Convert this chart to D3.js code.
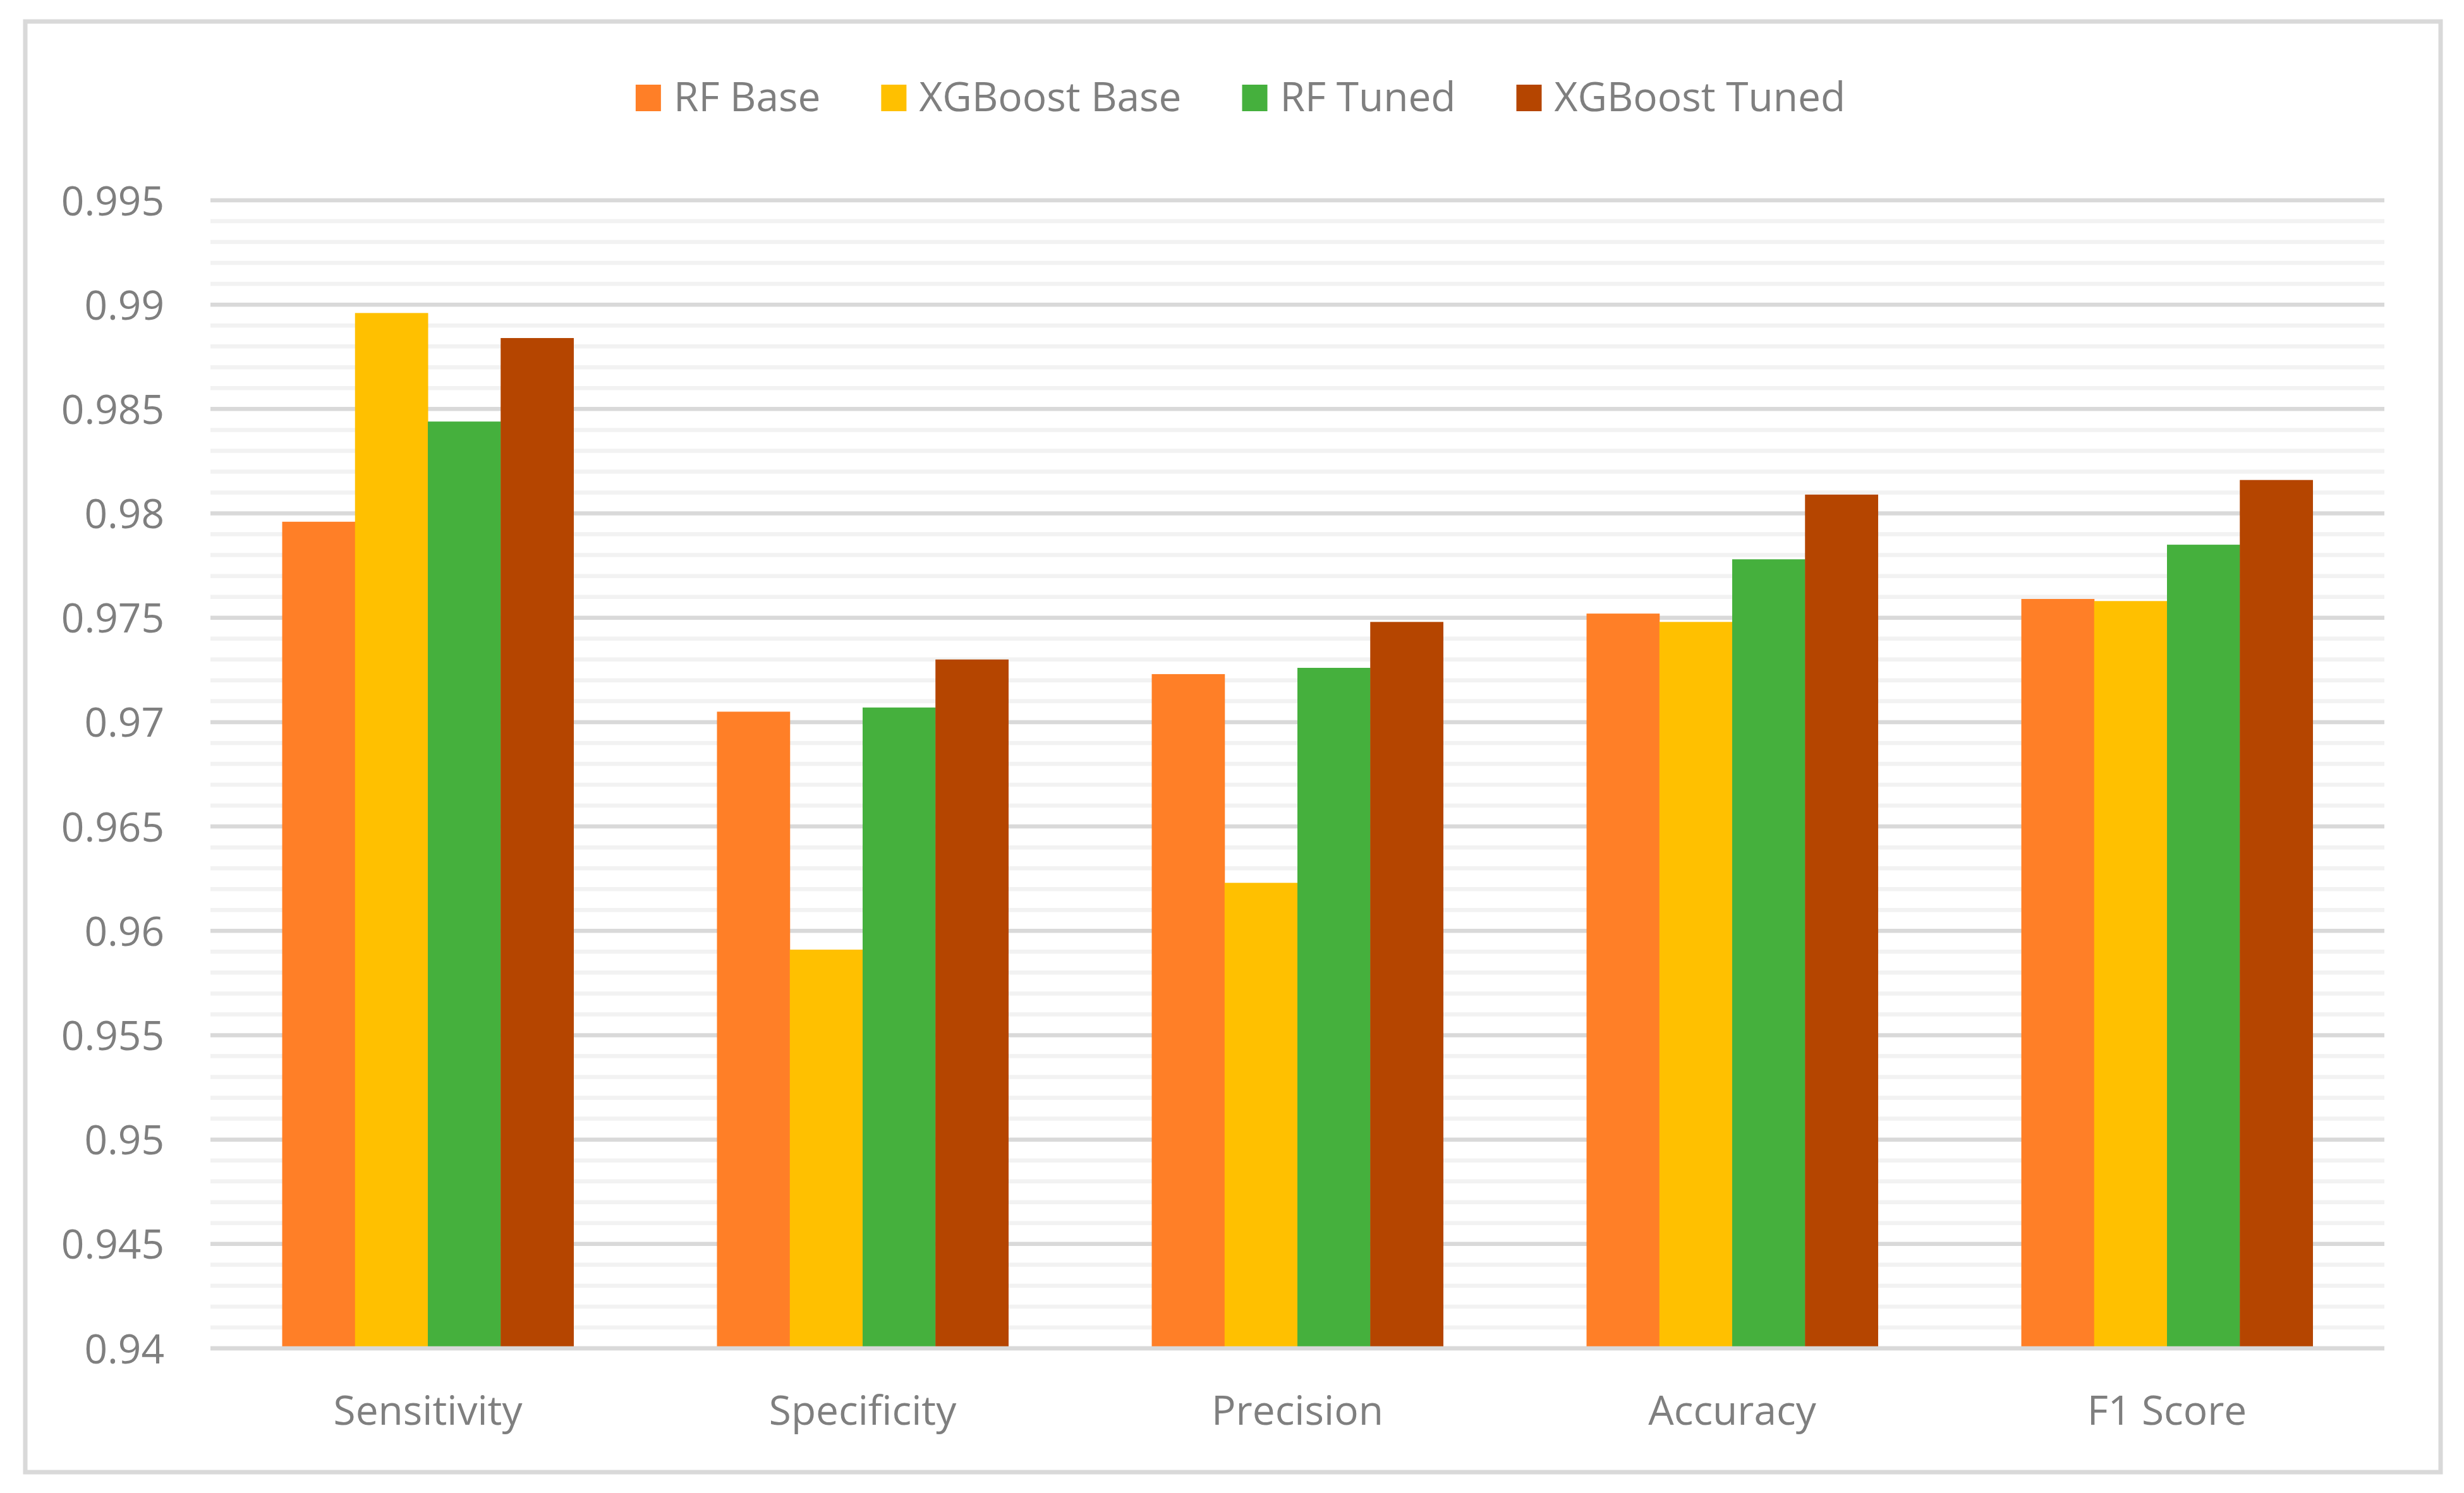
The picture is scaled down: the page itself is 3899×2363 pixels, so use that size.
<!DOCTYPE html>
<html>
<head>
<meta charset="utf-8">
<script src="https://cdn.jsdelivr.net/npm/d3@7"></script>
<style>
  html, body { margin: 0; padding: 0; background: #ffffff; }
  svg { display: block; }
  text { font-family: "Open Sans", "Liberation Sans", sans-serif; fill: #7f7f7f; }
</style>
</head>
<body>
<svg id="chart" width="3899" height="2363"></svg>
<script>
// ---- data ----
const categories = ["Sensitivity", "Specificity", "Precision", "Accuracy", "F1 Score"];
const seriesNames = ["RF Base", "XGBoost Base", "RF Tuned", "XGBoost Tuned"];
const seriesColors = ["#ff7f27", "#ffc000", "#45b03d", "#b54500"];
const rfBase      = [0.9796, 0.9705, 0.9723, 0.9752, 0.9759];
const xgbBase     = [0.9896, 0.9591, 0.9623, 0.9748, 0.9758];
const rfTuned     = [0.9844, 0.9707, 0.9726, 0.9778, 0.9785];
const xgbTuned    = [0.9884, 0.9730, 0.9748, 0.9809, 0.9816];
const yTickValues = [0.94, 0.945, 0.95, 0.955, 0.96, 0.965, 0.97, 0.975, 0.98, 0.985, 0.99, 0.995];
const yTickLabels = ["0.94", "0.945", "0.95", "0.955", "0.96", "0.965", "0.97", "0.975", "0.98", "0.985", "0.99", "0.995"];
const seriesValues = [rfBase, xgbBase, rfTuned, xgbTuned];

// ---- layout ----
const W = 3899, H = 2363;
const plot = { left: 333, right: 3773, top: 317, bottom: 2134 };
const svg = d3.select("#chart");

svg.append("rect").attr("x", 0).attr("y", 0).attr("width", W).attr("height", H).attr("fill", "#fff");
svg.append("rect")
  .attr("x", 40).attr("y", 34).attr("width", 3822).attr("height", 2296)
  .attr("fill", "none").attr("stroke", "#d9d9d9").attr("stroke-width", 7);

const y = d3.scaleLinear().domain([0.94, 0.995]).range([plot.bottom, plot.top]);
const x0 = d3.scaleBand().domain(categories).range([plot.left, plot.right])
  .paddingInner(0.33).paddingOuter(0.165);
const x1 = d3.scaleBand().domain(seriesNames).range([0, x0.bandwidth()]).padding(0);

// minor gridlines
const minorVals = d3.range(0, 56).map(i => +(0.94 + i * 0.001).toFixed(3))
  .filter(v => !yTickValues.some(t => Math.abs(t - v) < 1e-9));
svg.append("g").selectAll("line").data(minorVals).join("line")
  .attr("x1", plot.left).attr("x2", plot.right)
  .attr("y1", d => y(d)).attr("y2", d => y(d))
  .attr("stroke", "#f2f2f2").attr("stroke-width", 6.5);

// major gridlines
svg.append("g").selectAll("line").data(yTickValues).join("line")
  .attr("x1", plot.left).attr("x2", plot.right)
  .attr("y1", d => y(d)).attr("y2", d => y(d))
  .attr("stroke", "#d9d9d9").attr("stroke-width", 6.5);

// bars
const rows = categories.map((c, i) => ({ cat: c, vals: seriesNames.map((s, j) => ({ s, j, v: seriesValues[j][i] })) }));
const groups = svg.append("g").selectAll("g").data(rows).join("g")
  .attr("transform", d => `translate(${x0(d.cat)},0)`);
groups.selectAll("rect").data(d => d.vals).join("rect")
  .attr("x", d => x1(d.s))
  .attr("width", x1.bandwidth() + 0.5)
  .attr("y", d => y(d.v))
  .attr("height", d => y(0.94) - y(d.v))
  .attr("fill", d => seriesColors[d.j]);

// bottom axis line
svg.append("line").attr("x1", plot.left).attr("x2", plot.right)
  .attr("y1", y(0.94)).attr("y2", y(0.94))
  .attr("stroke", "#d9d9d9").attr("stroke-width", 6.5);

// y axis
const yAxis = d3.axisLeft(y).tickValues(yTickValues)
  .tickFormat((d, i) => yTickLabels[i]).tickSize(0).tickPadding(0);
const gy = svg.append("g").attr("transform", `translate(260,0)`).call(yAxis);
gy.select(".domain").remove();
gy.selectAll("text").attr("font-size", 64).attr("fill", "#7f7f7f")
  .attr("font-family", '"Open Sans", sans-serif').attr("dy", "0.36em");

// x axis
const xAxis = d3.axisBottom(x0).tickSize(0).tickPadding(0);
const gx = svg.append("g").attr("transform", `translate(0,2255)`).call(xAxis);
gx.select(".domain").remove();
gx.selectAll("text").attr("font-size", 64).attr("fill", "#7f7f7f")
  .attr("font-family", '"Open Sans", sans-serif').attr("dy", 0);

// legend
const legend = svg.append("g");
const items = legend.selectAll("g").data(seriesNames).join("g");
items.append("rect").attr("width", 40).attr("height", 42).attr("y", 134)
  .attr("fill", (d, i) => seriesColors[i]);
items.append("text").attr("x", 60).attr("y", 176).attr("font-size", 64).text(d => d);
const widths = [];
items.each(function () { widths.push(this.querySelector("text").getComputedTextLength()); });
const itemGap = 96;
const total = d3.sum(widths.map(w => 60 + w)) + itemGap * (widths.length - 1);
let cx = 1963 - total / 2;
items.attr("transform", (d, i) => {
  const t = `translate(${cx},0)`;
  cx += 60 + widths[i] + itemGap;
  return t;
});
</script>
</body>
</html>
